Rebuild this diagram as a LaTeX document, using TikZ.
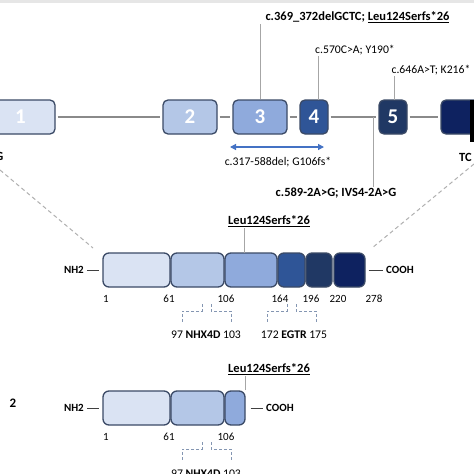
\documentclass[tikz,border=0pt]{standalone}
\usepackage{fontspec}
\setmainfont{Carlito}
\usetikzlibrary{arrows.meta}
\definecolor{cA}{HTML}{DAE3F3}
\definecolor{cB}{HTML}{B4C7E7}
\definecolor{cC}{HTML}{8FAADC}
\definecolor{cD}{HTML}{2F5597}
\definecolor{cE}{HTML}{203864}
\definecolor{cF}{HTML}{0E2260}
\definecolor{bord}{HTML}{3B4A66}
\definecolor{intr}{HTML}{8A8A8A}
\definecolor{vl}{HTML}{A6A6A6}
\definecolor{zl}{HTML}{B0B0B0}
\definecolor{brc}{HTML}{8496B2}
\definecolor{arr}{HTML}{4472C4}
\definecolor{band}{HTML}{E6E6E6}
\begin{document}
\begin{tikzpicture}[x=1pt,y=-1pt,
  exon/.style={draw=bord, line width=1.3pt, rounded corners=5pt, minimum height=34pt, inner sep=0pt, font=\fontsize{21}{21}\selectfont\bfseries, text=white},
  pbox/.style={draw=bord, line width=1.3pt, rounded corners=6pt, minimum height=34pt, inner sep=0pt},
  intron/.style={draw=intr, line width=1.2pt, shorten <=2pt, shorten >=2pt},
  vline/.style={draw=vl, line width=0.9pt},
  lab/.style={font=\fontsize{11.7}{13}\selectfont, inner sep=1pt},
  blab/.style={font=\fontsize{12.5}{14}\selectfont\bfseries, inner sep=1pt},
  num/.style={font=\fontsize{11}{12}\selectfont, inner sep=0pt},
  brk/.style={draw=brc, dash pattern=on 3pt off 2pt, line width=1pt},
  zoomline/.style={draw=zl, dash pattern=on 4pt off 3pt, line width=1pt},
  term/.style={font=\fontsize{11}{12}\selectfont\bfseries, inner sep=3pt}
]
\useasboundingbox (0,0) rectangle (474,474);
\clip (0,0) rectangle (474,474);
\fill[white] (0,0) rectangle (474,474);
\fill[band] (0,0) rectangle (474,3);

% ---------- gene ----------
\node[exon, fill=cA, minimum width=69pt] (e1) at (20.5,117) {1};
\node[exon, fill=cB, minimum width=54pt] (e2) at (190,117) {2};
\node[exon, fill=cC, minimum width=54pt] (e3) at (260,117) {3};
\node[exon, fill=cD, minimum width=28pt] (e4) at (314,117) {4};
\node[exon, fill=cE, minimum width=28pt] (e5) at (393,117) {5};
\node[exon, fill=cF, minimum width=68pt] (e6) at (475,117) {};
\fill[black] (470,100) rectangle (474,142);

\draw[intron] (e1) -- (e2);
\draw[intron] (e2) -- (e3);
\draw[intron] (e3) -- (e4);
\draw[intron] (e4) -- (e5);
\draw[intron] (e5) -- (e6);
\coordinate (i4) at (373,117);

\node[blab, anchor=east, inner sep=0pt] (gl) at (3.5,156) {G};
\node[blab, anchor=west, inner sep=0pt] (tc) at (459,157) {TC};

\node[blab] (lab1) at (357.5,17) {c.369\_372delGCTC; \underline{Leu124Serfs*26}};
\node[lab] (lab2) at (355,50) {c.570C>A; Y190*};
\node[lab] (lab3) at (431,70) {c.646A>T; K216*};
\node[blab] (lab4) at (336,193) {c.589-2A>G; IVS4-2A>G};
\node[lab] (lab5) at (278,162) {c.317-588del; G106fs*};

\draw[vline] (e3.north) -- (e3.north |- lab1.south);
\coordinate (m4) at (318,100);
\draw[vline] (m4) -- (m4 |- lab2.south);
\coordinate (m5) at (394,100);
\draw[vline] (m5) -- (m5 |- lab3.south);
\draw[vline] (i4) -- (i4 |- lab4.north);

\coordinate (a1) at (230,147);
\coordinate (a2) at (324,147);
\draw[arr, line width=1.2pt, {Triangle[length=6pt,width=6pt]}-{Triangle[length=6pt,width=6pt]}] (a1) -- (a2);

% zoom lines
\coordinate (zl1) at (0,170);
\coordinate (zl2) at (93,248);
\coordinate (zr1) at (474,164);
\coordinate (zr2) at (372,248);
\draw[zoomline] (zl1) -- (zl2);
\draw[zoomline] (zr1) -- (zr2);

% ---------- protein 1 ----------
\node[pbox, fill=cA, minimum width=67pt] (p1) at (136.5,270) {};
\node[pbox, fill=cB, minimum width=53pt] (p2) at (197.5,270) {};
\node[pbox, fill=cC, minimum width=52pt] (p3) at (251,270) {};
\node[pbox, fill=cD, minimum width=27pt] (p4) at (291.5,270) {};
\node[pbox, fill=cE, minimum width=26pt] (p5) at (319,270) {};
\node[pbox, fill=cF, minimum width=31pt] (p6) at (349.5,270) {};

\node[term, anchor=east] (nh1) at (87,270) {NH2};
\node[term, anchor=west] (co1) at (383,270) {COOH};
\draw[draw=black!75, line width=1pt, shorten >=3pt] (nh1.east) -- (p1.west);
\draw[draw=black!75, line width=1pt, shorten <=3pt] (p6.east) -- (co1.west);

\node[blab] (lu1) at (269,221) {\underline{Leu124Serfs*26}};
\coordinate (mp) at (244,253);
\draw[vline] (mp) -- (mp |- lu1.south);

\node[num] at (106,299) {1};
\node[num] at (169,299) {61};
\node[num] at (226,299) {106};
\node[num] at (280,299) {164};
\node[num] at (311,299) {196};
\node[num] at (338,299) {220};
\node[num] at (374,299) {278};

\draw[brk] (202,304) -- (202,311) -- (182,311) -- (182,322);
\draw[brk] (211,304) -- (211,311) -- (231,311) -- (231,322);
\draw[brk] (287,304) -- (287,311) -- (267,311) -- (267,322);
\draw[brk] (296,304) -- (296,311) -- (316,311) -- (316,322);
\node[lab] (nhx1) at (206,335) {97 \textbf{NHX4D} 103};
\node[lab] (egtr) at (294,335) {172 \textbf{EGTR} 175};

% ---------- protein 2 ----------
\node[font=\fontsize{13}{14}\selectfont\bfseries] (two) at (13,403) {2};
\node[pbox, fill=cA, minimum width=67pt] (q1) at (136.5,408) {};
\node[pbox, fill=cB, minimum width=53pt] (q2) at (197.5,408) {};
\node[pbox, fill=cC, minimum width=20pt] (q3) at (235,408) {};

\node[term, anchor=east] (nh2) at (87,408) {NH2};
\node[term, anchor=west] (co2) at (263,408) {COOH};
\draw[draw=black!75, line width=1pt, shorten >=3pt] (nh2.east) -- (q1.west);
\draw[draw=black!75, line width=1pt, shorten <=5pt] (q3.east) -- (co2.west);

\node[blab] (lu2) at (269,369) {\underline{Leu124Serfs*26}};
\draw[vline] (q3.north east) -- (q3.north east |- lu2.south);

\node[num] at (106,437) {1};
\node[num] at (169,437) {61};
\node[num] at (226,437) {106};

\draw[brk] (202,442) -- (202,449) -- (182,449) -- (182,460);
\draw[brk] (211,442) -- (211,449) -- (231,449) -- (231,460);
\node[lab] (nhx2) at (206,474) {97 \textbf{NHX4D} 103};
\end{tikzpicture}
\end{document}
